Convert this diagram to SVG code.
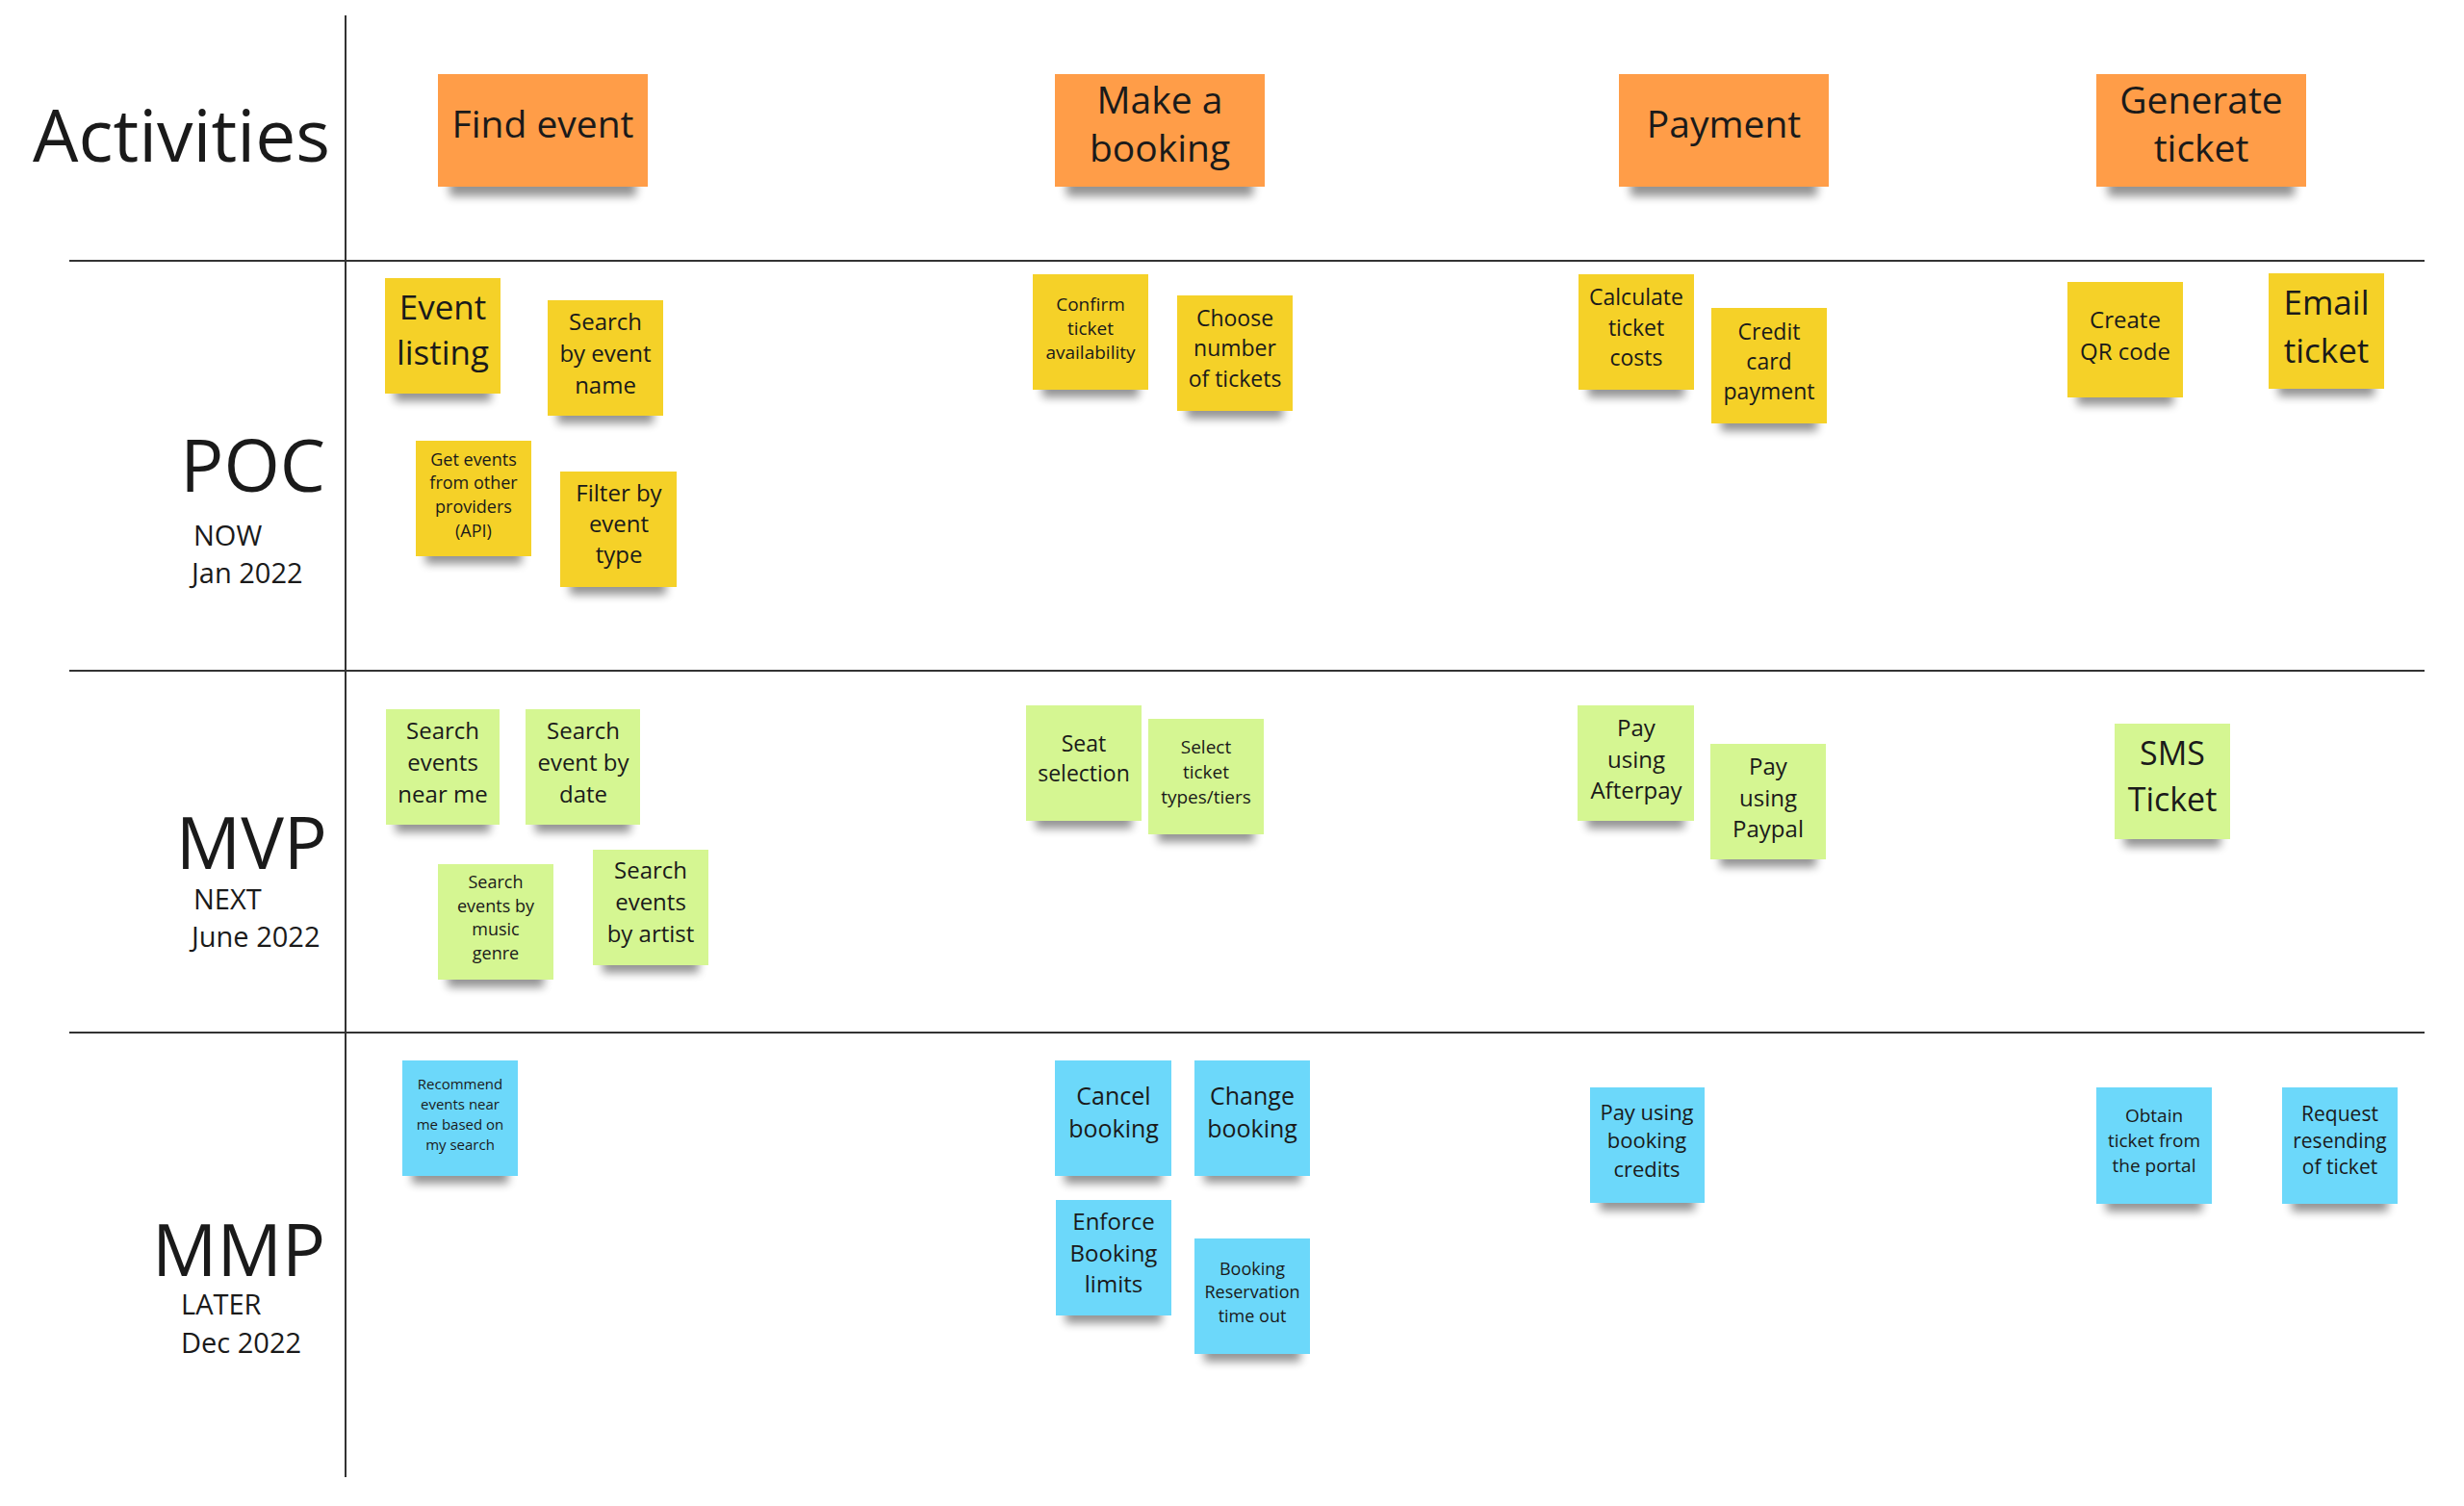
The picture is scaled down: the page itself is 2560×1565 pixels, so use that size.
<svg xmlns="http://www.w3.org/2000/svg" width="2560" height="1565" viewBox="0 0 2560 1565">
<defs>
<filter id="blur" x="-20%" y="-100%" width="140%" height="300%"><feGaussianBlur stdDeviation="5"/></filter>
<style>
text{font-family:"Open Sans","Noto Sans","Liberation Sans",sans-serif;fill:#1a1a1a}
.c{text-anchor:middle}
.e{text-anchor:end}
.sh{fill:#000;opacity:.42;filter:url(#blur)}
.o{fill:#ff9d48}
.y{fill:#f5d128}
.g{fill:#d5f692}
.b{fill:#6cd8fa}
.grid line{stroke:#333;stroke-width:2}
</style>
</defs>
<rect width="2560" height="1565" fill="#fff"/>
<g id="grid" class="grid">
<line x1="359" y1="16" x2="359" y2="1535"/>
<line x1="72" y1="271" x2="2519" y2="271"/>
<line x1="72" y1="697" x2="2519" y2="697"/>
<line x1="72" y1="1073" x2="2519" y2="1073"/>
</g>
<g id="labels">
<text id="lbl-activities" class="e" x="343" y="168" font-size="75">Activities</text>
<text id="lbl-poc" class="e" x="338" y="511" font-size="75">POC</text>
<text x="201" y="567" font-size="29">NOW</text>
<text x="199" y="606" font-size="29">Jan 2022</text>
<text id="lbl-mvp" class="e" x="340" y="903" font-size="75">MVP</text>
<text x="201" y="945" font-size="29">NEXT</text>
<text x="199" y="984" font-size="29">June 2022</text>
<text id="lbl-mmp" class="e" x="338" y="1326" font-size="75">MMP</text>
<text x="188" y="1366" font-size="29">LATER</text>
<text x="188" y="1406" font-size="29">Dec 2022</text>
</g>
<g id="connectors"></g>

<g id="act-find-event"><rect class="sh" x="467" y="184" width="194" height="20"/><rect class="o" x="455" y="77" width="218" height="117"/><text class="c" font-size="39"><tspan x="564" y="143">Find event</tspan></text></g>
<g id="act-make-booking"><rect class="sh" x="1108" y="184" width="194" height="20"/><rect class="o" x="1096" y="77" width="218" height="117"/><text class="c" font-size="39"><tspan x="1205" y="118">Make a</tspan><tspan x="1205" y="168">booking</tspan></text></g>
<g id="act-payment"><rect class="sh" x="1694" y="184" width="194" height="20"/><rect class="o" x="1682" y="77" width="218" height="117"/><text class="c" font-size="39"><tspan x="1791" y="143">Payment</tspan></text></g>
<g id="act-generate-ticket"><rect class="sh" x="2190" y="184" width="194" height="20"/><rect class="o" x="2178" y="77" width="218" height="117"/><text class="c" font-size="39"><tspan x="2287" y="118">Generate</tspan><tspan x="2287" y="168">ticket</tspan></text></g>

<g id="poc-event-listing"><rect class="sh" x="410" y="399" width="100" height="18"/><rect class="y" x="400" y="289" width="120" height="120"/><text class="c" font-size="35"><tspan x="460" y="332">Event</tspan><tspan x="460" y="379">listing</tspan></text></g>
<g id="poc-search-name"><rect class="sh" x="579" y="422" width="100" height="18"/><rect class="y" x="569" y="312" width="120" height="120"/><text class="c" font-size="24"><tspan x="629" y="343">Search</tspan><tspan x="629" y="376">by event</tspan><tspan x="629" y="409">name</tspan></text></g>
<g id="poc-get-events"><rect class="sh" x="442" y="568" width="100" height="18"/><rect class="y" x="432" y="458" width="120" height="120"/><text class="c" font-size="18"><tspan x="492" y="484">Get events</tspan><tspan x="492" y="508">from other</tspan><tspan x="492" y="533">providers</tspan><tspan x="492" y="558">(API)</tspan></text></g>
<g id="poc-filter-type"><rect class="sh" x="592" y="600" width="100" height="18"/><rect class="y" x="582" y="490" width="121" height="120"/><text class="c" font-size="24"><tspan x="643" y="521">Filter by</tspan><tspan x="643" y="553">event</tspan><tspan x="643" y="585">type</tspan></text></g>
<g id="poc-confirm"><rect class="sh" x="1083" y="395" width="100" height="18"/><rect class="y" x="1073" y="285" width="120" height="120"/><text class="c" font-size="19"><tspan x="1133" y="323">Confirm</tspan><tspan x="1133" y="348">ticket</tspan><tspan x="1133" y="373">availability</tspan></text></g>
<g id="poc-choose-number"><rect class="sh" x="1233" y="417" width="100" height="18"/><rect class="y" x="1223" y="307" width="120" height="120"/><text class="c" font-size="23"><tspan x="1283" y="339">Choose</tspan><tspan x="1283" y="370">number</tspan><tspan x="1283" y="402">of tickets</tspan></text></g>
<g id="poc-calculate"><rect class="sh" x="1650" y="395" width="100" height="18"/><rect class="y" x="1640" y="285" width="120" height="120"/><text class="c" font-size="23"><tspan x="1700" y="317">Calculate</tspan><tspan x="1700" y="349">ticket</tspan><tspan x="1700" y="380">costs</tspan></text></g>
<g id="poc-credit-card"><rect class="sh" x="1788" y="430" width="100" height="18"/><rect class="y" x="1778" y="320" width="120" height="120"/><text class="c" font-size="23"><tspan x="1838" y="353">Credit</tspan><tspan x="1838" y="384">card</tspan><tspan x="1838" y="415">payment</tspan></text></g>
<g id="poc-qr-code"><rect class="sh" x="2158" y="403" width="100" height="18"/><rect class="y" x="2148" y="293" width="120" height="120"/><text class="c" font-size="24"><tspan x="2208" y="341">Create</tspan><tspan x="2208" y="374">QR code</tspan></text></g>
<g id="poc-email-ticket"><rect class="sh" x="2367" y="394" width="100" height="18"/><rect class="y" x="2357" y="284" width="120" height="120"/><text class="c" font-size="35"><tspan x="2417" y="327">Email</tspan><tspan x="2417" y="377">ticket</tspan></text></g>

<g id="mvp-near-me"><rect class="sh" x="411" y="847" width="98" height="18"/><rect class="g" x="401" y="737" width="118" height="120"/><text class="c" font-size="24"><tspan x="460" y="768">Search</tspan><tspan x="460" y="801">events</tspan><tspan x="460" y="834">near me</tspan></text></g>
<g id="mvp-by-date"><rect class="sh" x="556" y="847" width="99" height="18"/><rect class="g" x="546" y="737" width="119" height="120"/><text class="c" font-size="24"><tspan x="606" y="768">Search</tspan><tspan x="606" y="801">event by</tspan><tspan x="606" y="834">date</tspan></text></g>
<g id="mvp-music-genre"><rect class="sh" x="465" y="1008" width="100" height="18"/><rect class="g" x="455" y="898" width="120" height="120"/><text class="c" font-size="18"><tspan x="515" y="923">Search</tspan><tspan x="515" y="948">events by</tspan><tspan x="515" y="972">music</tspan><tspan x="515" y="997">genre</tspan></text></g>
<g id="mvp-by-artist"><rect class="sh" x="626" y="993" width="100" height="18"/><rect class="g" x="616" y="883" width="120" height="120"/><text class="c" font-size="24"><tspan x="676" y="913">Search</tspan><tspan x="676" y="946">events</tspan><tspan x="676" y="979">by artist</tspan></text></g>
<g id="mvp-seat-selection"><rect class="sh" x="1076" y="843" width="100" height="18"/><rect class="g" x="1066" y="733" width="120" height="120"/><text class="c" font-size="23"><tspan x="1126" y="781">Seat</tspan><tspan x="1126" y="812">selection</tspan></text></g>
<g id="mvp-ticket-types"><rect class="sh" x="1203" y="857" width="100" height="18"/><rect class="g" x="1193" y="747" width="120" height="120"/><text class="c" font-size="19"><tspan x="1253" y="783">Select</tspan><tspan x="1253" y="809">ticket</tspan><tspan x="1253" y="835">types/tiers</tspan></text></g>
<g id="mvp-afterpay"><rect class="sh" x="1649" y="843" width="101" height="18"/><rect class="g" x="1639" y="733" width="121" height="120"/><text class="c" font-size="24"><tspan x="1700" y="765">Pay</tspan><tspan x="1700" y="798">using</tspan><tspan x="1700" y="830">Afterpay</tspan></text></g>
<g id="mvp-paypal"><rect class="sh" x="1787" y="883" width="100" height="18"/><rect class="g" x="1777" y="773" width="120" height="120"/><text class="c" font-size="24"><tspan x="1837" y="805">Pay</tspan><tspan x="1837" y="838">using</tspan><tspan x="1837" y="870">Paypal</tspan></text></g>
<g id="mvp-sms-ticket"><rect class="sh" x="2207" y="862" width="100" height="18"/><rect class="g" x="2197" y="752" width="120" height="120"/><text class="c" font-size="34"><tspan x="2257" y="795">SMS</tspan><tspan x="2257" y="843">Ticket</tspan></text></g>

<g id="mmp-recommend"><rect class="sh" x="428" y="1212" width="100" height="18"/><rect class="b" x="418" y="1102" width="120" height="120"/><text class="c" font-size="15"><tspan x="478" y="1132">Recommend</tspan><tspan x="478" y="1153">events near</tspan><tspan x="478" y="1174">me based on</tspan><tspan x="478" y="1195">my search</tspan></text></g>
<g id="mmp-cancel"><rect class="sh" x="1106" y="1212" width="101" height="18"/><rect class="b" x="1096" y="1102" width="121" height="120"/><text class="c" font-size="25"><tspan x="1157" y="1148">Cancel</tspan><tspan x="1157" y="1182">booking</tspan></text></g>
<g id="mmp-change"><rect class="sh" x="1251" y="1211" width="100" height="18"/><rect class="b" x="1241" y="1102" width="120" height="120"/><text class="c" font-size="25"><tspan x="1301" y="1148">Change</tspan><tspan x="1301" y="1182">booking</tspan></text></g>
<g id="mmp-enforce-limits"><rect class="sh" x="1107" y="1357" width="100" height="18"/><rect class="b" x="1097" y="1247" width="120" height="120"/><text class="c" font-size="24"><tspan x="1157" y="1278">Enforce</tspan><tspan x="1157" y="1311">Booking</tspan><tspan x="1157" y="1343">limits</tspan></text></g>
<g id="mmp-reservation-timeout"><rect class="sh" x="1251" y="1397" width="100" height="18"/><rect class="b" x="1241" y="1287" width="120" height="120"/><text class="c" font-size="18"><tspan x="1301" y="1325">Booking</tspan><tspan x="1301" y="1349">Reservation</tspan><tspan x="1301" y="1374">time out</tspan></text></g>
<g id="mmp-booking-credits"><rect class="sh" x="1662" y="1240" width="99" height="18"/><rect class="b" x="1652" y="1130" width="119" height="120"/><text class="c" font-size="22"><tspan x="1711" y="1164">Pay using</tspan><tspan x="1711" y="1193">booking</tspan><tspan x="1711" y="1223">credits</tspan></text></g>
<g id="mmp-obtain-portal"><rect class="sh" x="2188" y="1241" width="100" height="18"/><rect class="b" x="2178" y="1130" width="120" height="121"/><text class="c" font-size="19"><tspan x="2238" y="1166">Obtain</tspan><tspan x="2238" y="1192">ticket from</tspan><tspan x="2238" y="1218">the portal</tspan></text></g>
<g id="mmp-resend-ticket"><rect class="sh" x="2381" y="1241" width="100" height="18"/><rect class="b" x="2371" y="1130" width="120" height="121"/><text class="c" font-size="21"><tspan x="2431" y="1165">Request</tspan><tspan x="2431" y="1193">resending</tspan><tspan x="2431" y="1220">of ticket</tspan></text></g>
</svg>
